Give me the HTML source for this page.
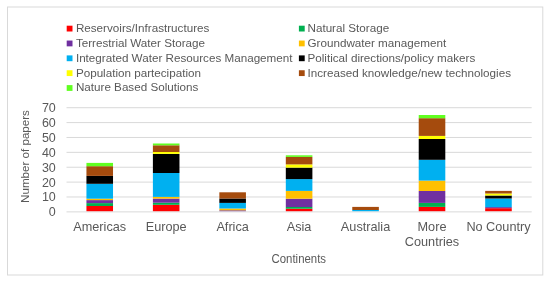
<!DOCTYPE html><html><head><meta charset="utf-8"><style>html,body{margin:0;padding:0;background:#fff;}svg{display:block;}#w{width:550px;height:282px;}text{font-family:"Liberation Sans",Arial,sans-serif;fill:#595959;}</style></head><body>
<div id="w">
<svg width="550" height="282" viewBox="0 0 550 282">
<rect x="0" y="0" width="550" height="282" fill="#fff"/>
<rect x="7.5" y="7" width="535.3" height="268" fill="#fff" stroke="#D9D9D9" stroke-width="1"/>
<line x1="66.5" x2="531.7" y1="211.86" y2="211.86" stroke="#D9D9D9" stroke-width="1"/>
<line x1="66.5" x2="531.7" y1="196.98" y2="196.98" stroke="#D9D9D9" stroke-width="1"/>
<line x1="66.5" x2="531.7" y1="182.10" y2="182.10" stroke="#D9D9D9" stroke-width="1"/>
<line x1="66.5" x2="531.7" y1="167.23" y2="167.23" stroke="#D9D9D9" stroke-width="1"/>
<line x1="66.5" x2="531.7" y1="152.35" y2="152.35" stroke="#D9D9D9" stroke-width="1"/>
<line x1="66.5" x2="531.7" y1="137.47" y2="137.47" stroke="#D9D9D9" stroke-width="1"/>
<line x1="66.5" x2="531.7" y1="122.59" y2="122.59" stroke="#D9D9D9" stroke-width="1"/>
<line x1="66.5" x2="531.7" y1="107.71" y2="107.71" stroke="#D9D9D9" stroke-width="1"/>
<rect x="86.44" y="206.00" width="26.58" height="5.20" fill="#FF0000"/>
<rect x="86.44" y="203.10" width="26.58" height="2.90" fill="#00B050"/>
<rect x="86.44" y="200.10" width="26.58" height="3.00" fill="#7030A0"/>
<rect x="86.44" y="198.70" width="26.58" height="1.40" fill="#FFC000"/>
<rect x="86.44" y="183.80" width="26.58" height="14.90" fill="#00B0F0"/>
<rect x="86.44" y="175.90" width="26.58" height="7.90" fill="#000000"/>
<rect x="86.44" y="166.20" width="26.58" height="9.70" fill="#A54B0D"/>
<rect x="86.44" y="162.90" width="26.58" height="3.30" fill="#60FF20"/>
<rect x="152.89" y="204.80" width="26.58" height="6.40" fill="#FF0000"/>
<rect x="152.89" y="202.70" width="26.58" height="2.10" fill="#00B050"/>
<rect x="152.89" y="198.60" width="26.58" height="4.10" fill="#7030A0"/>
<rect x="152.89" y="196.90" width="26.58" height="1.70" fill="#FFC000"/>
<rect x="152.89" y="173.00" width="26.58" height="23.90" fill="#00B0F0"/>
<rect x="152.89" y="153.90" width="26.58" height="19.10" fill="#000000"/>
<rect x="152.89" y="152.00" width="26.58" height="1.90" fill="#FFFF00"/>
<rect x="152.89" y="145.30" width="26.58" height="6.70" fill="#A54B0D"/>
<rect x="152.89" y="143.50" width="26.58" height="1.80" fill="#60FF20"/>
<rect x="219.35" y="210.30" width="26.58" height="0.90" fill="#7030A0"/>
<rect x="219.35" y="208.50" width="26.58" height="1.80" fill="#FFC000"/>
<rect x="219.35" y="202.90" width="26.58" height="5.60" fill="#00B0F0"/>
<rect x="219.35" y="198.50" width="26.58" height="4.40" fill="#000000"/>
<rect x="219.35" y="192.30" width="26.58" height="6.20" fill="#A54B0D"/>
<rect x="285.81" y="208.70" width="26.58" height="2.50" fill="#FF0000"/>
<rect x="285.81" y="207.00" width="26.58" height="1.70" fill="#00B050"/>
<rect x="285.81" y="198.70" width="26.58" height="8.30" fill="#7030A0"/>
<rect x="285.81" y="190.90" width="26.58" height="7.80" fill="#FFC000"/>
<rect x="285.81" y="179.10" width="26.58" height="11.80" fill="#00B0F0"/>
<rect x="285.81" y="167.60" width="26.58" height="11.50" fill="#000000"/>
<rect x="285.81" y="164.40" width="26.58" height="3.20" fill="#FFFF00"/>
<rect x="285.81" y="156.90" width="26.58" height="7.50" fill="#A54B0D"/>
<rect x="285.81" y="155.30" width="26.58" height="1.60" fill="#60FF20"/>
<rect x="352.27" y="210.00" width="26.58" height="1.20" fill="#00B0F0"/>
<rect x="352.27" y="206.90" width="26.58" height="3.10" fill="#A54B0D"/>
<rect x="418.72" y="206.90" width="26.58" height="4.30" fill="#FF0000"/>
<rect x="418.72" y="202.90" width="26.58" height="4.00" fill="#00B050"/>
<rect x="418.72" y="191.00" width="26.58" height="11.90" fill="#7030A0"/>
<rect x="418.72" y="180.60" width="26.58" height="10.40" fill="#FFC000"/>
<rect x="418.72" y="159.80" width="26.58" height="20.80" fill="#00B0F0"/>
<rect x="418.72" y="139.00" width="26.58" height="20.80" fill="#000000"/>
<rect x="418.72" y="135.90" width="26.58" height="3.10" fill="#FFFF00"/>
<rect x="418.72" y="118.20" width="26.58" height="17.70" fill="#A54B0D"/>
<rect x="418.72" y="115.00" width="26.58" height="3.20" fill="#60FF20"/>
<rect x="485.18" y="208.20" width="26.58" height="3.00" fill="#FF0000"/>
<rect x="485.18" y="207.10" width="26.58" height="1.10" fill="#7030A0"/>
<rect x="485.18" y="198.50" width="26.58" height="8.60" fill="#00B0F0"/>
<rect x="485.18" y="195.50" width="26.58" height="3.00" fill="#000000"/>
<rect x="485.18" y="193.50" width="26.58" height="2.00" fill="#FFFF00"/>
<rect x="485.18" y="190.90" width="26.58" height="2.60" fill="#A54B0D"/>
<text x="55.8" y="216.36" font-size="12.5" text-anchor="end">0</text>
<text x="55.8" y="201.48" font-size="12.5" text-anchor="end">10</text>
<text x="55.8" y="186.60" font-size="12.5" text-anchor="end">20</text>
<text x="55.8" y="171.73" font-size="12.5" text-anchor="end">30</text>
<text x="55.8" y="156.85" font-size="12.5" text-anchor="end">40</text>
<text x="55.8" y="141.97" font-size="12.5" text-anchor="end">50</text>
<text x="55.8" y="127.09" font-size="12.5" text-anchor="end">60</text>
<text x="55.8" y="112.21" font-size="12.5" text-anchor="end">70</text>
<text x="99.73" y="230.8" font-size="12.7" text-anchor="middle">Americas</text>
<text x="166.19" y="230.8" font-size="12.7" text-anchor="middle">Europe</text>
<text x="232.64" y="230.8" font-size="12.7" text-anchor="middle">Africa</text>
<text x="299.10" y="230.8" font-size="12.7" text-anchor="middle">Asia</text>
<text x="365.56" y="230.8" font-size="12.7" text-anchor="middle">Australia</text>
<text x="432.01" y="231" font-size="12.7" text-anchor="middle">More</text>
<text x="432.01" y="245.7" font-size="12.7" text-anchor="middle">Countries</text>
<text x="498.47" y="230.8" font-size="12.7" text-anchor="middle">No Country</text>
<text x="298.8" y="262.7" font-size="12" text-anchor="middle" textLength="54.5" lengthAdjust="spacingAndGlyphs">Continents</text>
<text transform="translate(28.8,156.5) rotate(-90)" font-size="11.6" text-anchor="middle">Number of papers</text>
<rect x="66.7" y="25.70" width="5.8" height="5.8" fill="#FF0000"/>
<text x="75.9" y="32.30" font-size="11.66">Reservoirs/Infrastructures</text>
<rect x="298.9" y="25.70" width="5.8" height="5.8" fill="#00B050"/>
<text x="307.5" y="32.30" font-size="11.66">Natural Storage</text>
<rect x="66.7" y="40.55" width="5.8" height="5.8" fill="#7030A0"/>
<text x="75.9" y="47.05" font-size="11.66">Terrestrial Water Storage</text>
<rect x="298.9" y="40.55" width="5.8" height="5.8" fill="#FFC000"/>
<text x="307.5" y="47.05" font-size="11.66">Groundwater management</text>
<rect x="66.7" y="55.40" width="5.8" height="5.8" fill="#00B0F0"/>
<text x="75.9" y="61.80" font-size="11.66">Integrated Water Resources Management</text>
<rect x="298.9" y="55.40" width="5.8" height="5.8" fill="#000000"/>
<text x="307.5" y="61.80" font-size="11.66">Political directions/policy makers</text>
<rect x="66.7" y="70.25" width="5.8" height="5.8" fill="#FFFF00"/>
<text x="75.9" y="76.55" font-size="11.66">Population partecipation</text>
<rect x="298.9" y="70.25" width="5.8" height="5.8" fill="#A54B0D"/>
<text x="307.5" y="76.55" font-size="11.66">Increased knowledge/new technologies</text>
<rect x="66.7" y="85.10" width="5.8" height="5.8" fill="#60FF20"/>
<text x="75.9" y="91.30" font-size="11.66">Nature Based Solutions</text>
</svg></div></body></html>
